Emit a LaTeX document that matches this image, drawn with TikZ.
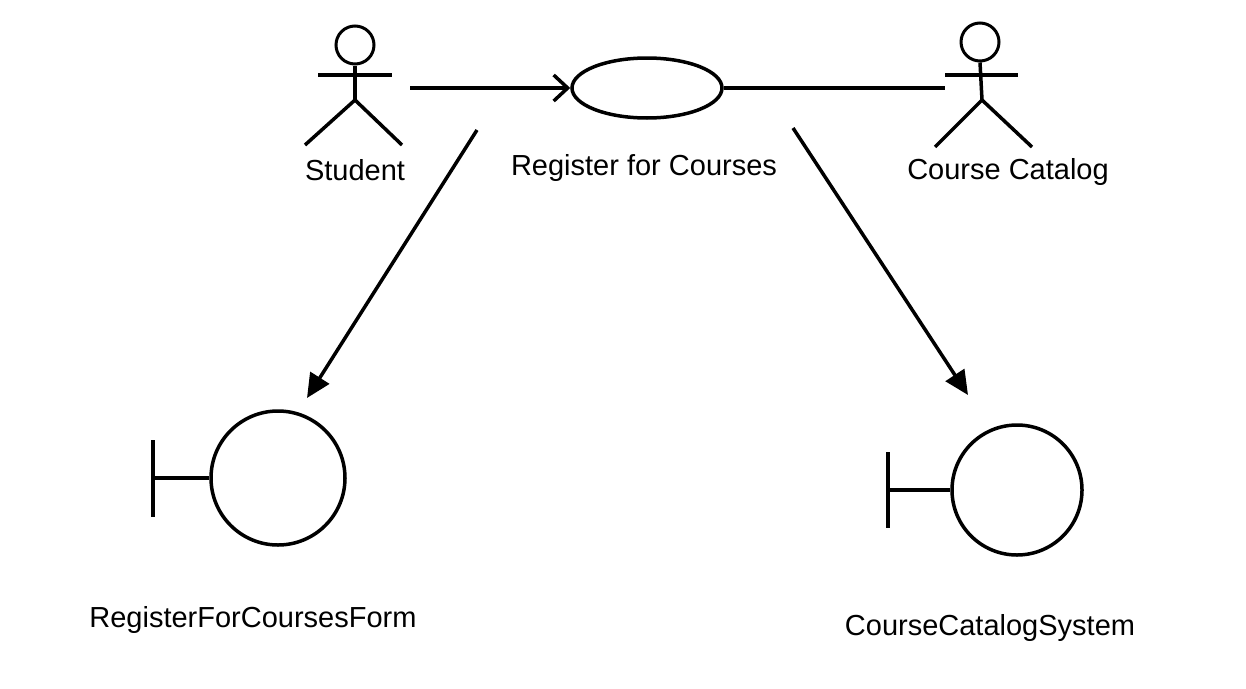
\documentclass[tikz,border=0pt]{standalone}
\usepackage{fontspec}
\setmainfont{Liberation Sans}
\usetikzlibrary{arrows.meta,shapes.geometric}
\begin{document}
\begin{tikzpicture}[x=1pt,y=-1pt,line width=3.5pt,
  lbl/.style={font=\fontsize{29}{34}\selectfont,inner sep=0pt},
  open/.style={-{Straight Barb[length=14pt,width=26pt,line width=3.5pt]}},
  filled/.style={-{Triangle[length=24pt,width=22pt]}}]
\useasboundingbox (0,0) rectangle (1246,688);
% Student actor
\node[circle,draw,minimum size=38pt,inner sep=0pt,line width=3pt] (sh) at (355,45) {};
\coordinate (sb) at (355,100);
\draw (sh.south) -- (sb);
\draw (318,75) -- (392,75);
\draw (305,145) -- (sb) -- (402,145);
\node[lbl] (st) at (355,170) {Student};
% Course catalog actor
\node[circle,draw,minimum size=38pt,inner sep=0pt,line width=3pt] (ch) at (980,42) {};
\coordinate (cb) at (982,100);
\draw (ch.south) -- (cb);
\draw (945,75) -- (1018,75);
\draw (935,147) -- (cb) -- (1032,147);
\node[lbl] (ct) at (1008,172) {Course Catalog};
% use case
\node[ellipse,draw,minimum width=150pt,minimum height=60pt,inner sep=0pt] (uc) at (647,88) {};
\node[lbl] (ut) at (644,168) {Register for Courses};
\coordinate (a1) at (410,88);
\coordinate (a2) at (945,88);
\draw[open] (a1) -- (uc.west);
\draw (uc.east) -- (a2);
% boundaries
\node[circle,draw,minimum size=134pt,inner sep=0pt] (b1) at (278,478) {};
\coordinate (t1) at (153,478);
\draw (153,440) -- (153,517);
\draw (t1) -- (b1.west);
\node[lbl] (b1t) at (253,620) {RegisterForCoursesForm};
\node[circle,draw,minimum size=130pt,inner sep=0pt] (b2) at (1017,490) {};
\coordinate (t2) at (888,490);
\draw (888,452) -- (888,528);
\draw (t2) -- (b2.west);
\node[lbl] (b2t) at (990,628) {CourseCatalogSystem};
% arrows
\coordinate (s1) at (477,130);
\coordinate (e1) at (307,398);
\coordinate (s2) at (793,128);
\coordinate (e2) at (968,395);
\draw[filled] (s1) -- (e1);
\draw[filled] (s2) -- (e2);
\end{tikzpicture}
\end{document}
